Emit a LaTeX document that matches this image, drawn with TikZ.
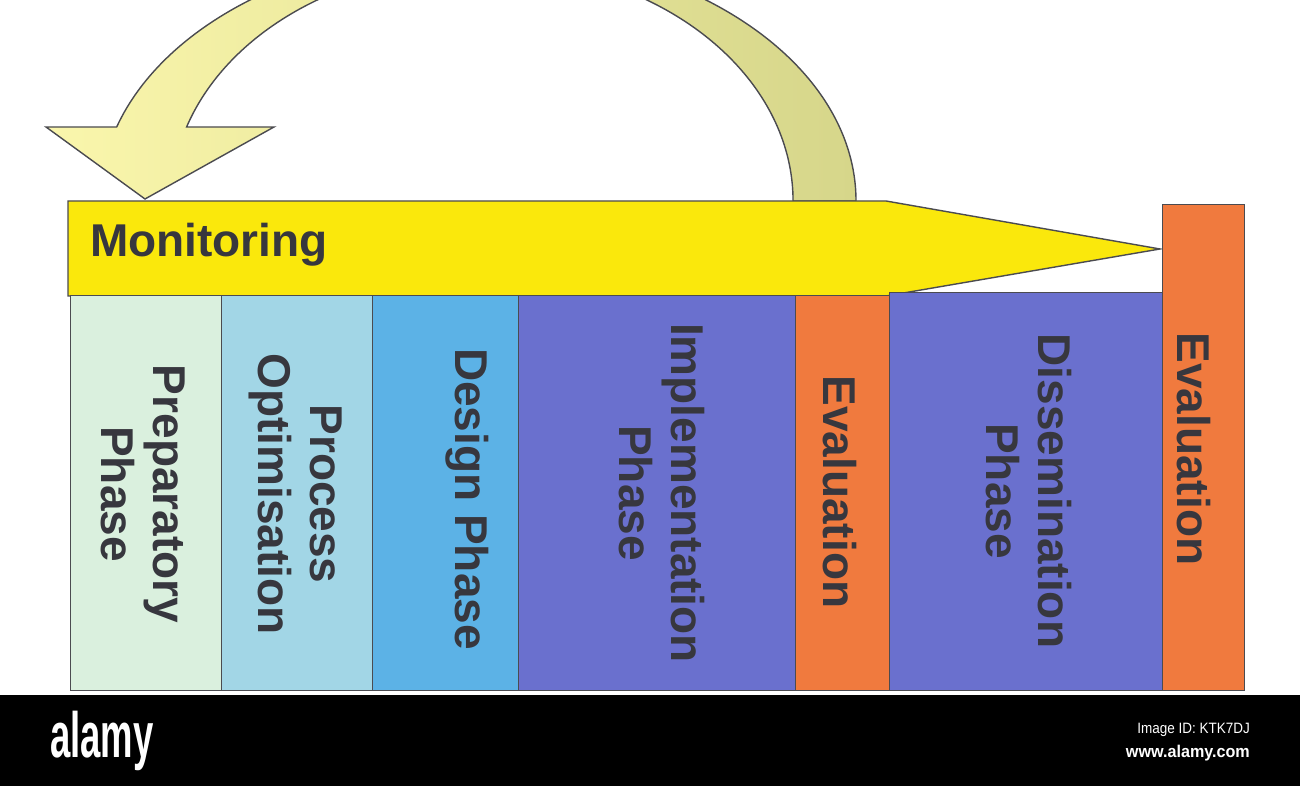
\documentclass[tikz,border=0pt]{standalone}
\usepackage{fontspec}
\setmainfont{Liberation Sans}
\definecolor{outl}{RGB}{75,75,80}
\definecolor{txt}{RGB}{55,55,62}
\definecolor{bandc}{RGB}{250,232,12}
\definecolor{arrL}{RGB}{250,246,172}
\definecolor{arrR}{RGB}{214,214,138}
\definecolor{prepc}{RGB}{218,240,222}
\definecolor{procc}{RGB}{162,214,230}
\definecolor{desc}{RGB}{92,178,230}
\definecolor{implc}{RGB}{106,112,206}
\definecolor{evalc}{RGB}{240,122,62}
\begin{document}
\begin{tikzpicture}[x=1pt,y=1pt,
  box/.style={draw=outl, line width=1.4pt, anchor=south west, inner sep=0pt},
  lbl/.style={rotate=-90, text=txt, font=\bfseries\fontsize{46}{52}\selectfont, align=center, inner sep=0pt},
]
\clip (0,0) rectangle (1300,786);
\fill[white] (0,0) rectangle (1300,786);
% curved arrow
\path[draw=outl, line width=1.4pt, left color=arrL, right color=arrR]
  (856,585) arc[start angle=0, end angle=162.92, x radius=378pt, y radius=252pt]
  -- (46,659) -- (145,587) -- (274,659) -- (186.6,659)
  arc[start angle=161.81, end angle=0, x radius=311pt, y radius=237pt] -- cycle;
% monitoring band
\draw[fill=bandc, draw=outl, line width=1.4pt]
  (68,585) -- (886,585) -- (1160,537) -- (886,490) -- (68,490) -- cycle;
\node[anchor=base west, text=txt, font=\bfseries\fontsize{46}{52}\selectfont, inner sep=0pt] (mon) at (90,529) {Monitoring};
% phase boxes
\node[box, fill=prepc, minimum width=151pt, minimum height=395pt] (prep) at (70,95) {};
\node[box, fill=procc, minimum width=151pt, minimum height=395pt] (proc) at (221,95) {};
\node[box, fill=desc, minimum width=146pt, minimum height=395pt] (des) at (372,95) {};
\node[box, fill=implc, minimum width=277pt, minimum height=395pt] (impl) at (518,95) {};
\node[box, fill=evalc, minimum width=94pt, minimum height=395pt] (evalA) at (795,95) {};
\node[box, fill=implc, minimum width=276pt, minimum height=398pt] (diss) at (889,95) {};
\node[box, fill=evalc, minimum width=82pt, minimum height=486pt] (evalB) at (1162,95) {};
% labels
\node[lbl] (prepL) at (143,292) {Preparatory\\Phase};
\node[lbl] (procL) at (296,292) {Process\\Optimisation};
\node[lbl] (desL) at (467,287) {Design Phase};
\node[lbl] (implL) at (662,293) {Implementation\\Phase};
\node[lbl] (evalAL) at (840,294) {Evaluation};
\node[lbl] (dissL) at (1029,295) {Dissemination\\Phase};
\node[lbl] (evalBL) at (1194,337) {Evaluation};
% bottom bar
\fill[black] (0,0) rectangle (1300,91);
\node[anchor=base west, text=white, font=\bfseries\fontsize{64}{70}\selectfont, xscale=0.57, inner sep=0pt] (logo) at (50,28) {alamy};
\node[anchor=base east, text=white, font=\fontsize{15}{18}\selectfont, xscale=0.9, inner sep=0pt] (imgid) at (1250,52) {Image ID: KTK7DJ};
\node[anchor=base east, text=white, font=\bfseries\fontsize{17}{20}\selectfont, xscale=0.95, inner sep=0pt] (www) at (1250,28) {www.alamy.com};
\end{tikzpicture}
\end{document}
